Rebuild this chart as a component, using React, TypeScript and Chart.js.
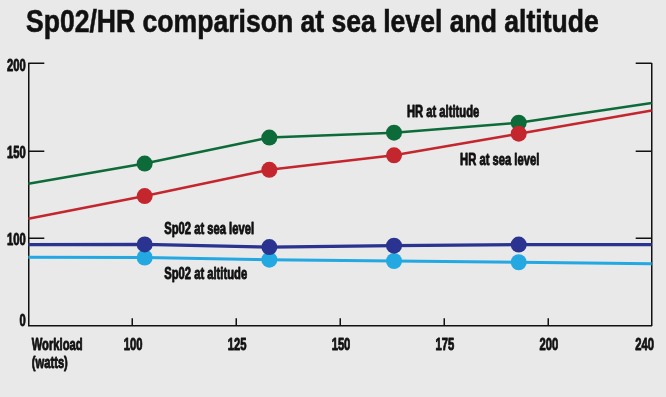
import React, { useEffect, useRef } from "react";
import { Chart, registerables } from "chart.js";

Chart.register(...registerables);

// Workload (x) positions: first and last entries are the chart edges the lines run to
const workload = [75, 103, 133, 163, 193, 225];
const hrAltitude = [131, 142.6, 157.5, 160.3, 166, 177.3];
const hrSeaLevel = [111, 124, 139, 147.3, 159.7, 173];
const spo2SeaLevel = [96.2, 96.3, 94.8, 95.6, 96.2, 96.2];
const spo2Altitude = [89, 88.8, 87.6, 86.8, 86.1, 85.2];
const markerShown = [false, true, true, true, true, false];

const xTickValues = [75, 100, 125, 150, 175, 200, 225];
const xTickLabels: (string | string[])[] = [["Workload", "(watts)"], "100", "125", "150", "175", "200", "240"];
const yTickValues = [50, 100, 150, 200];
const yTickLabels = ["0", "100", "150", "200"];
const xMarkTicks = [100, 125, 150, 175, 200];
const yMarkTicks = [100, 150, 200];

const seriesNames = ["HR at altitude", "HR at sea level", "Sp02 at sea level", "Sp02 at altitude"];
const seriesLabelX = [166.1, 178.9, 107.7, 107.7];
const seriesLabelY = [169.1, 141.8, 102.3, 76.5];

const TITLE = "Sp02/HR comparison at sea level and altitude";
const FAMILY = '"Liberation Sans", Arial, "DejaVu Sans", sans-serif';
const SMALL_FONT = `bold 17px ${FAMILY}`;
const SMALL_SX = 0.66;
const INK = "#111111";

function condensedText(ctx: CanvasRenderingContext2D, text: string, x: number, y: number, align: "left" | "center" | "right") {
  ctx.save();
  ctx.font = SMALL_FONT;
  const w = ctx.measureText(text).width * SMALL_SX;
  let left = x;
  if (align === "center") left = x - w / 2;
  else if (align === "right") left = x - w;
  ctx.translate(left, y);
  ctx.scale(SMALL_SX, 1);
  ctx.textAlign = "left";
  ctx.textBaseline = "alphabetic";
  ctx.fillStyle = INK;
  ctx.strokeStyle = INK;
  ctx.lineWidth = 0.9;
  ctx.lineJoin = "round";
  ctx.fillText(text, 0, 0);
  ctx.strokeText(text, 0, 0);
  ctx.restore();
}

const decorPlugin = {
  id: "decor",
  beforeDatasetsDraw(chart: any) {
    const { ctx, chartArea: a, scales } = chart;
    const x = scales.x;
    const y = scales.y;
    ctx.save();
    ctx.strokeStyle = INK;
    ctx.lineWidth = 1.5;
    ctx.beginPath();
    for (const v of yMarkTicks) {
      const py = Math.round(y.getPixelForValue(v)) + 0.25;
      ctx.moveTo(a.left, py);
      ctx.lineTo(a.left + 16, py);
      ctx.moveTo(a.right - 16, py);
      ctx.lineTo(a.right, py);
    }
    for (const v of xMarkTicks) {
      const px = Math.round(x.getPixelForValue(v)) + 0.25;
      ctx.moveTo(px, a.bottom);
      ctx.lineTo(px, a.bottom - 7);
    }
    ctx.stroke();
    ctx.restore();
  },
  afterDraw(chart: any) {
    const { ctx, chartArea: a, scales } = chart;
    ctx.save();
    // y tick labels
    yTickValues.forEach((v, i) => {
      const py = Math.min(scales.y.getPixelForValue(v) + 7.5, a.bottom + 0.7);
      condensedText(ctx, yTickLabels[i], a.left - 2.6, py, "right");
    });
    // x tick labels
    const base = a.bottom + 24.7;
    xTickValues.forEach((v, i) => {
      const label = xTickLabels[i];
      const lines = Array.isArray(label) ? label : [label];
      const px = scales.x.getPixelForValue(v);
      const last = i === xTickValues.length - 1;
      lines.forEach((line, j) => {
        const yy = base + j * 17.5;
        if (i === 0) condensedText(ctx, line, px + 3.4, yy, "left");
        else if (last) condensedText(ctx, line, px + 2.3, yy, "right");
        else condensedText(ctx, line, px + 1, yy, "center");
      });
    });
    // series labels
    seriesNames.forEach((name, i) => {
      const px = scales.x.getPixelForValue(seriesLabelX[i]);
      const py = scales.y.getPixelForValue(seriesLabelY[i]);
      condensedText(ctx, name, px, py, "left");
    });
    ctx.restore();
  },
};

function series(values: number[]) {
  return workload.map((x, i) => ({ x, y: values[i] }));
}

export default function App() {
  const canvasRef = useRef<HTMLCanvasElement | null>(null);

  useEffect(() => {
    const canvas = canvasRef.current;
    if (!canvas) return;
    const radii = markerShown.map((m) => (m ? 8 : 0));
    const mk = (label: string, values: number[], color: string, width: number) => ({
      label,
      data: series(values),
      borderColor: color,
      backgroundColor: color,
      borderWidth: width,
      pointRadius: radii,
      pointHoverRadius: radii,
      pointBorderWidth: 0,
      pointBackgroundColor: color,
      tension: 0,
      clip: false as any,
    });
    const chart = new Chart(canvas, {
      type: "line",
      data: {
        datasets: [
          mk(seriesNames[2], spo2SeaLevel, "#2a338f", 3.2),
          mk(seriesNames[3], spo2Altitude, "#23a8e2", 3),
          mk(seriesNames[1], hrSeaLevel, "#c4262e", 2.5),
          mk(seriesNames[0], hrAltitude, "#0d6b3a", 2.5),
        ],
      },
      options: {
        responsive: false,
        maintainAspectRatio: false,
        animation: false,
        events: [],
        layout: { padding: { top: 63.3, left: 0, right: 0, bottom: 0 } },
        plugins: {
          legend: { display: false },
          tooltip: { enabled: false },
          title: { display: false },
        },
        scales: {
          x: {
            type: "linear",
            min: 75,
            max: 225,
            grid: { display: false, drawTicks: false },
            border: { display: true, color: INK, width: 1.5 },
            afterBuildTicks: (s: any) => {
              s.ticks = xTickValues.map((value) => ({ value }));
            },
            afterFit: (s: any) => {
              s.height = 71.7;
            },
            ticks: { display: false },
          },
          y: {
            type: "linear",
            position: "left",
            min: 50,
            max: 200,
            grid: { display: false, drawTicks: false },
            border: { display: true, color: INK, width: 1.5 },
            afterBuildTicks: (s: any) => {
              s.ticks = yTickValues.map((value) => ({ value }));
            },
            afterFit: (s: any) => {
              s.width = 28.3;
            },
            ticks: { display: false },
          },
          y2: {
            type: "linear",
            position: "right",
            min: 50,
            max: 200,
            grid: { display: false, drawTicks: false },
            border: { display: true, color: INK, width: 1.5 },
            ticks: { display: false },
            afterFit: (s: any) => {
              s.width = 14.3;
            },
          },
        },
      } as any,
      plugins: [decorPlugin],
    });
    return () => chart.destroy();
  }, []);

  return (
    <div
      style={{
        position: "fixed",
        left: 0,
        top: 0,
        width: 666,
        height: 397,
        background: "#e9e9e9",
        overflow: "hidden",
      }}
    >
      <canvas
        ref={canvasRef}
        width={666}
        height={397}
        style={{ position: "absolute", left: 0, top: 0, width: 666, height: 397, display: "block" }}
      />
      <div
        style={{
          position: "absolute",
          left: 26,
          top: 5,
          fontFamily: FAMILY,
          fontWeight: "bold",
          fontSize: 32,
          lineHeight: "32px",
          color: INK,
          whiteSpace: "nowrap",
          transform: "scaleX(0.83)",
          transformOrigin: "0 0",
          WebkitTextStroke: "0.6px #111111",
        }}
      >
        {TITLE}
      </div>
    </div>
  );
}
